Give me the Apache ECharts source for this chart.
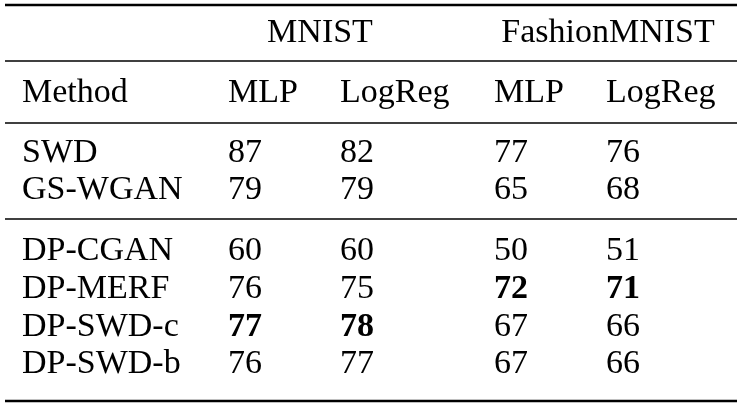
<!DOCTYPE html>
<html>
<head>
<meta charset="UTF-8">
<script src="https://cdn.jsdelivr.net/npm/echarts@6/dist/echarts.min.js"></script>
<style>html,body{margin:0;padding:0;background:#fff}</style>
</head>
<body>
<div id="main" style="width:741px;height:408px;"></div>
<script>
  var groups = ['MNIST', 'FashionMNIST'];
  var columns = ['Method', 'MLP', 'LogReg', 'MLP', 'LogReg'];
  var methods = ['SWD', 'GS-WGAN', 'DP-CGAN', 'DP-MERF', 'DP-SWD-c', 'DP-SWD-b'];
  var mnistMLP = [87, 79, 60, 76, 77, 76];
  var mnistLogReg = [82, 79, 60, 75, 78, 77];
  var fashionMLP = [77, 65, 50, 72, 67, 67];
  var fashionLogReg = [76, 68, 51, 71, 66, 66];
  // bold cells: [row, col]
  var bold = [[3, 3], [3, 4], [4, 1], [4, 2]];

  var colX = [22, 228, 340, 494, 606];
  var groupX = [320, 608];
  var rowY = [153, 190, 251, 289, 327, 364];
  var font = '"Liberation Serif", "DejaVu Serif", serif';
  var fs = 34;

  var g = [];
  function txt(s, x, y, align, isBold) {
    g.push({ type: 'text', x: x, y: y, style: {
      text: String(s), font: (isBold ? 'bold ' : '') + fs + 'px ' + font,
      fill: '#000', textAlign: align || 'left', textVerticalAlign: 'middle' } });
  }
  function rule(x1, x2, y, w) {
    g.push({ type: 'line', shape: { x1: x1, y1: y, x2: x2, y2: y }, style: { stroke: '#000', lineWidth: w } });
  }
  groups.forEach(function (s, i) { txt(s, groupX[i], 33, 'center'); });
  columns.forEach(function (s, i) { txt(s, colX[i], 93); });
  var cols = [mnistMLP, mnistLogReg, fashionMLP, fashionLogReg];
  methods.forEach(function (m, r) {
    txt(m, colX[0], rowY[r]);
    cols.forEach(function (arr, c) {
      var b = bold.some(function (p) { return p[0] === r && p[1] === c + 1; });
      txt(arr[r], colX[c + 1], rowY[r], 'left', b);
    });
  });
  rule(5, 737, 5, 2.5);
  rule(5, 737, 61, 1.3);
  rule(5, 737, 123, 1.3);
  rule(5, 737, 219, 1.3);
  rule(5, 737, 401, 2.5);

  var chart = echarts.init(document.getElementById('main'));
  chart.setOption({ animation: false, graphic: g });
</script>
</body>
</html>
